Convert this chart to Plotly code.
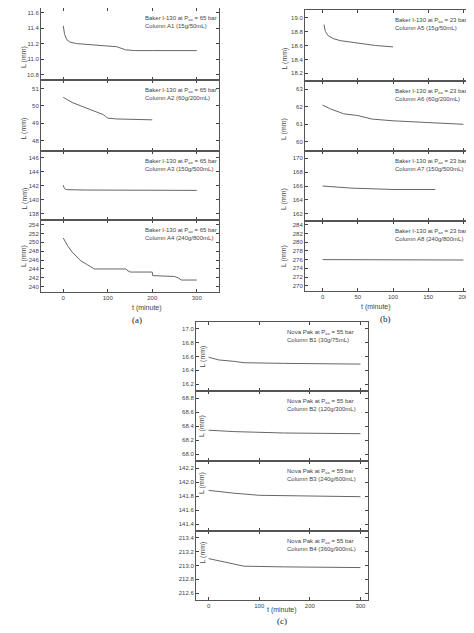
import plotly.graph_objects as go

W, H = 474, 633

# ---- data ----
t_A1 = [0, 3, 8, 15, 30, 50, 80, 100, 120, 140, 160, 200, 300]
L_A1 = [11.43, 11.32, 11.25, 11.22, 11.20, 11.19, 11.18, 11.17, 11.16, 11.12, 11.11, 11.11, 11.11]
t_A2 = [0, 10, 20, 40, 60, 80, 90, 95, 100, 120, 150, 200]
L_A2 = [50.5, 50.35, 50.2, 50.0, 49.8, 49.6, 49.5, 49.4, 49.3, 49.25, 49.22, 49.2]
t_A3 = [0, 2, 5, 10, 50, 100, 200, 300]
L_A3 = [142.1, 141.7, 141.5, 141.45, 141.4, 141.4, 141.4, 141.35]
t_A4 = [0, 5, 10, 20, 30, 40, 55, 70, 100, 140, 150, 200, 201, 250, 260, 265, 300]
L_A4 = [251.0, 250.0, 249.2, 247.8, 246.7, 245.8, 244.9, 244.0, 244.0, 244.0, 243.3, 243.3, 242.5, 242.3, 241.9, 241.5, 241.5]
t_A5 = [2, 4, 8, 15, 25, 50, 75, 100]
L_A5 = [18.9, 18.8, 18.74, 18.7, 18.67, 18.63, 18.6, 18.58]
t_A6 = [0, 10, 30, 50, 70, 100, 150, 200]
L_A6 = [62.1, 61.9, 61.6, 61.5, 61.3, 61.2, 61.1, 61.0]
t_A7 = [0, 20, 40, 70, 100, 160]
L_A7 = [166.0, 165.85, 165.7, 165.6, 165.5, 165.5]
t_A8 = [0, 100, 200]
L_A8 = [276.0, 275.95, 275.9]
t_B1 = [0, 10, 20, 50, 70, 150, 300]
L_B1 = [16.59, 16.57, 16.55, 16.53, 16.51, 16.50, 16.49]
t_B2 = [0, 20, 50, 150, 300]
L_B2 = [68.34, 68.33, 68.32, 68.30, 68.29]
t_B3 = [0, 20, 50, 100, 200, 300]
L_B3 = [141.88, 141.86, 141.84, 141.81, 141.80, 141.79]
t_B4 = [0, 20, 50, 70, 150, 300]
L_B4 = [213.1, 213.07, 213.03, 212.99, 212.98, 212.97]

series = [t_A1, L_A1, t_A2, L_A2, t_A3, L_A3, t_A4, L_A4,
          t_A5, L_A5, t_A6, L_A6, t_A7, L_A7, t_A8, L_A8,
          t_B1, L_B1, t_B2, L_B2, t_B3, L_B3, t_B4, L_B4]
labels = [
    ("Baker I-130", "65", "A1 (15g/50mL)"), ("Baker I-130", "65", "A2 (60g/200mL)"),
    ("Baker I-130", "65", "A3 (150g/500mL)"), ("Baker I-130", "65", "A4 (240g/800mL)"),
    ("Baker I-130", "23", "A5 (15g/50mL)"), ("Baker I-130", "23", "A6 (60g/200mL)"),
    ("Baker I-130", "23", "A7 (150g/500mL)"), ("Baker I-130", "23", "A8 (240g/800mL)"),
    ("Nova Pak", "55", "B1 (30g/75mL)"), ("Nova Pak", "55", "B2 (120g/300mL)"),
    ("Nova Pak", "55", "B3 (240g/600mL)"), ("Nova Pak", "55", "B4 (360g/900mL)"),
]
yranges = [[10.73, 11.66], [47.4, 51.5], [137.1, 147.0], [238.8, 255.05],
           [18.09, 19.11], [59.47, 63.48], [160.95, 171.05], [268.8, 284.85],
           [16.1, 17.1], [67.9, 68.9], [141.3, 142.3], [212.5, 213.5]]
ydticks = [0.2, 1, 2, 2, 0.2, 1, 2, 2, 0.2, 0.2, 0.2, 0.2]

# ---- layout of the three panels (pixels) ----
panels = [
    dict(x0=33, x1=211, bounds=[0, 72, 143, 212, 284], xr=[-50, 350], dt=100, ann=135, cap="(a)", ylab=10),
    dict(x0=297, x1=473, bounds=[2, 73, 143, 213, 283], xr=[-25, 225], dt=50, ann=385, cap="(b)", ylab=276),
    dict(x0=188, x1=360, bounds=[314, 383, 453, 523, 592], xr=[-25, 315], dt=100, ann=277, cap="(c)", ylab=194),
]

fig = go.Figure()
grey = "#555555"
font = dict(family="Liberation Sans, Arial", size=6, color="#444444")
layout = {}
annotations = []
k = 0
for p in panels:
    for j in range(4):
        n = k + 1
        t, L = series[2 * k], series[2 * k + 1]
        fig.add_trace(go.Scatter(x=t, y=L, mode="lines", line=dict(color="#666666", width=1),
                                 xaxis=f"x{n}", yaxis=f"y{n}", showlegend=False))
        top, bot = p["bounds"][j], p["bounds"][j + 1]
        last = j == 3
        layout[f"xaxis{n}"] = dict(domain=[p["x0"] / W, p["x1"] / W], anchor=f"y{n}",
                                   range=p["xr"], dtick=p["dt"], tick0=0, ticks="inside", ticklen=3,
                                   showticklabels=last, mirror="ticks", showline=True, linecolor=grey,
                                   linewidth=1, showgrid=False, zeroline=False, tickfont=font)
        layout[f"yaxis{n}"] = dict(domain=[1 - bot / H, 1 - top / H], anchor=f"x{n}",
                                   range=yranges[k], dtick=ydticks[k], ticks="inside", ticklen=3,
                                   tickformat=".1f" if ydticks[k] < 1 else "d",
                                   mirror="ticks", showline=True, linecolor=grey, linewidth=1,
                                   showgrid=False, zeroline=False, tickfont=font)
        name, pres, col = labels[k]
        annotations.append(dict(xref="paper", yref="paper", x=p["ann"] / W, y=1 - (top + 5) / H,
                                xanchor="left", yanchor="top", align="left", showarrow=False, font=font,
                                text=f"{name} at P<sub>ax</sub> = {pres} bar<br>Column {col}"))
        annotations.append(dict(xref="paper", yref="paper", x=p["ylab"] / W, y=1 - (top + bot) / 2 / H,
                                textangle=-90, showarrow=False, font=dict(font, size=7), text="L (mm)"))
        k += 1
    xc = (p["x0"] + p["x1"]) / 2 / W
    annotations.append(dict(xref="paper", yref="paper", x=xc, y=1 - (p["bounds"][4] + 16) / H,
                            showarrow=False, font=dict(font, size=7), text="t (minute)"))
    annotations.append(dict(xref="paper", yref="paper", x=xc, y=1 - (p["bounds"][4] + 28) / H,
                            showarrow=False, font=dict(family="Liberation Serif", size=9, color="#222222"),
                            text=p["cap"]))

fig.update_layout(width=W, height=H, margin=dict(l=0, r=0, t=0, b=0),
                  plot_bgcolor="white", paper_bgcolor="white", annotations=annotations, **layout)
fig.write_html("out.html")
